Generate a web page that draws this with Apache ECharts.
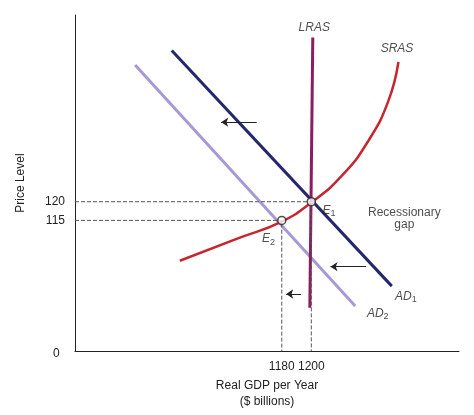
<!DOCTYPE html>
<html><head><meta charset="utf-8">
<script src="https://cdn.jsdelivr.net/npm/echarts@6/dist/echarts.min.js"></script>
<style>body{margin:0;background:#fff}#c{width:474px;height:415px}</style>
</head><body><div id="c"></div>
<script>
// curves, in (GDP, price level) units
var lras = [[1201, 164], [1199, 91.6]];
var sras = [[1111, 104.2], [1149, 110], [1180, 114.7], [1200.7, 120], [1221, 127.1], [1238.6, 136.3], [1252, 146.8], [1259, 157.4]];
var ad1 = [[1105.5, 160.5], [1254.5, 97.4]];
var ad2 = [[1080.7, 156.6], [1229.7, 92.1]];
var equilibria = [[1200, 120], [1180, 115]];
var xTicks = [1180, 1200];
var yTicks = [115, 120];
var arrows = [
  [[1163, 141.3], [1139, 141.3]],
  [[1237, 102.6], [1213, 102.6]],
  [[1193, 95.3], [1183, 95.3]]
];
var labels = [
  {t: 'LRAS', p: [1202, 166.5], it: true},
  {t: 'SRAS', p: [1258, 161], it: true},
  {t: '{i|E}{s|1}', p: [1212, 117.7]},
  {t: '{i|E}{s|2}', p: [1171, 110]},
  {t: '{i|AD}{s|1}', p: [1264, 94.5]},
  {t: '{i|AD}{s|2}', p: [1245, 90]},
  {t: 'Recessionary\ngap', p: [1263, 115.5]}
];

var black = '#222';
var chart = echarts.init(document.getElementById('c'));
var line = function (d, color, w) {
  return {type: 'line', data: d, symbol: 'none', smooth: d.length > 2, lineStyle: {color: color, width: w}, z: 3};
};
var series = [
  line(ad2, '#a899d6', 3),
  line(ad1, '#25276b', 3),
  line(sras, '#c6262e', 2.5),
  line(lras, '#8c1d62', 3),
  {type: 'line', data: [[1040, 120], [1200, 120], [1200, 80]], symbol: 'none', lineStyle: {color: '#555', type: 'dashed', width: 1},
   markLine: {silent: true, symbol: ['none', 'arrow'], symbolSize: 7, label: {show: false},
     lineStyle: {color: black, type: 'solid', width: 1},
     data: arrows.map(function (a) { return [{coord: a[0]}, {coord: a[1]}]; })}},
  {type: 'line', data: [[1040, 115], [1180, 115], [1180, 80]], symbol: 'none', lineStyle: {color: '#555', type: 'dashed', width: 1}},
  {type: 'scatter', data: equilibria, symbolSize: 8, itemStyle: {color: '#fff', borderColor: black, borderWidth: 1.5}, z: 5},
  {type: 'scatter', data: labels.map(function (l) { return {value: l.p, name: l.t}; }),
   symbolSize: 0, z: 6,
   label: {show: true, position: 'inside', color: black, fontSize: 12, fontFamily: 'Liberation Sans',
     formatter: function (p) { return p.name; },
     rich: {i: {fontStyle: 'italic', fontSize: 12, color: black}, s: {fontSize: 9, verticalAlign: 'bottom', color: black, padding: [6, 0, 0, 0]}}},
   labelLayout: {hideOverlap: false}}
];
labels.forEach(function (l, i) { if (l.it) series[7].data[i].label = {fontStyle: 'italic'}; });

chart.setOption({
  animation: false,
  grid: {left: 75, right: 15, top: 15, bottom: 60},
  xAxis: {type: 'value', min: 1040, max: 1300, interval: 20,
    name: 'Real GDP per Year\n($ billions)', nameLocation: 'middle', nameGap: 26,
    nameTextStyle: {color: black, fontSize: 12, lineHeight: 16},
    axisLine: {lineStyle: {color: black}}, axisTick: {show: false}, splitLine: {show: false},
    axisLabel: {color: black, fontSize: 12, margin: 10, formatter: function (v) { return xTicks.indexOf(v) >= 0 ? v : ''; }}},
  yAxis: {type: 'value', min: 80, max: 170, interval: 5,
    name: 'Price Level', nameLocation: 'middle', nameGap: 48,
    nameTextStyle: {color: black, fontSize: 12},
    axisLine: {lineStyle: {color: black}}, axisTick: {show: false}, splitLine: {show: false},
    axisLabel: {color: black, fontSize: 12, margin: 10, formatter: function (v) { return yTicks.indexOf(v) >= 0 ? v : ''; }}},
  graphic: [{type: 'text', left: 53, top: 348, style: {text: '0', fill: black, fontSize: 12}}],
  series: series
});
</script></body></html>
